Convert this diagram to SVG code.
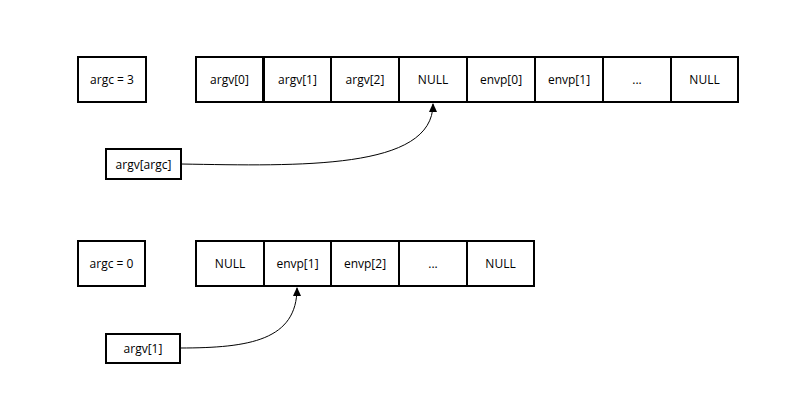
<svg xmlns="http://www.w3.org/2000/svg" width="800" height="412" viewBox="0 0 800 412">
<style>
rect{fill:#fff;stroke:#000;stroke-width:2}
text{font-family:"Open Sans",sans-serif;font-size:12px;fill:#000;text-anchor:middle;dominant-baseline:central}
.c{fill:none;stroke:#000;stroke-width:1}
</style>
<defs><marker id="a" markerWidth="10" markerHeight="10" refX="8" refY="5" orient="auto" markerUnits="userSpaceOnUse"><path d="M0,1 L9,5 L0,9 z" fill="#000"/></marker></defs>
<rect width="800" height="412" style="stroke:none"/>
<g id="argc3"><rect x="78" y="57" width="68" height="45"/><text x="112" y="79.5">argc = 3</text></g>
<g id="top">
<rect x="196" y="57" width="67" height="45"/><text x="229.5" y="79.5">argv[0]</text>
<rect x="264" y="57" width="67" height="45"/><text x="297.5" y="79.5">argv[1]</text>
<rect x="331" y="57" width="68" height="45"/><text x="365" y="79.5">argv[2]</text>
<rect x="399" y="57" width="68" height="45"/><text x="433" y="79.5">NULL</text>
<rect x="467" y="57" width="68" height="45"/><text x="501" y="79.5">envp[0]</text>
<rect x="535" y="57" width="68" height="45"/><text x="569" y="79.5">envp[1]</text>
<rect x="603" y="57" width="68" height="45"/><text x="637" y="79.5">...</text>
<rect x="671" y="57" width="67" height="45"/><text x="704.5" y="79.5">NULL</text>
</g>
<g id="argvargc"><rect x="106" y="149" width="75" height="30"/><text x="143.5" y="164">argv[argc]</text></g>
<g id="argc0"><rect x="78" y="241" width="67" height="45"/><text x="111.5" y="263.5">argc = 0</text></g>
<g id="bottom">
<rect x="196" y="241" width="68" height="45"/><text x="230" y="263.5">NULL</text>
<rect x="264" y="241" width="67" height="45"/><text x="297.5" y="263.5">envp[1]</text>
<rect x="331" y="241" width="68" height="45"/><text x="365" y="263.5">envp[2]</text>
<rect x="399" y="241" width="68" height="45"/><text x="433" y="263.5">...</text>
<rect x="467" y="241" width="67" height="45"/><text x="500.5" y="263.5">NULL</text>
</g>
<g id="argv1"><rect x="106" y="334" width="74" height="29"/><text x="143" y="348.5">argv[1]</text></g>
<g id="connectors">
<path class="c" d="M181,164 C300,166 433,170 433,104" marker-end="url(#a)"/>
<path class="c" d="M180,348 C250,348 297,340 297,288" marker-end="url(#a)"/>
</g>
</svg>
